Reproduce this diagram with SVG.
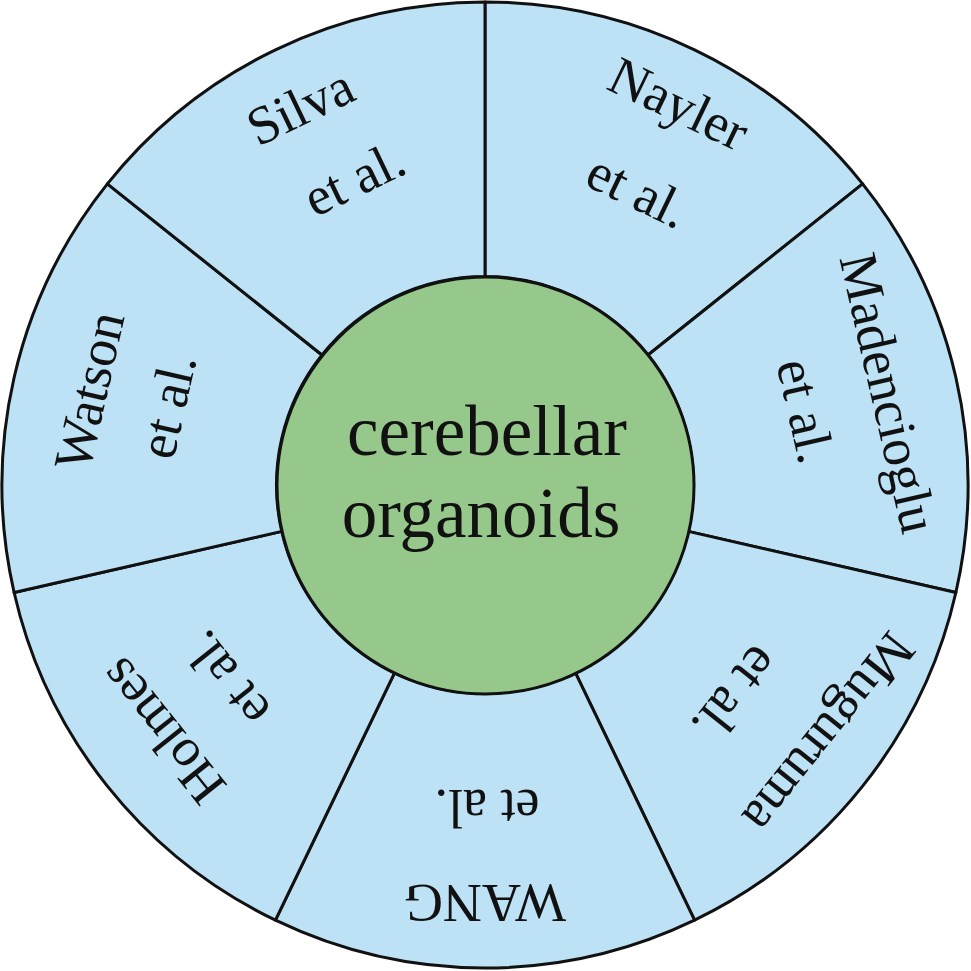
<svg xmlns="http://www.w3.org/2000/svg" width="971" height="971" viewBox="0 0 971 971">
<style>
.sec{fill:#BDE1F5;stroke:#111;stroke-width:3;stroke-linejoin:round}
.hub{fill:#96C78B;stroke:#111;stroke-width:3}
.lbl{font-family:"Liberation Serif","DejaVu Serif",serif;font-size:54px;fill:#111;text-anchor:middle}
.hubt{font-family:"Liberation Serif","DejaVu Serif",serif;font-size:71px;fill:#111;text-anchor:middle}
</style>
<rect width="971" height="971" fill="#fff"/>
<g id="sector-nayler">
<path class="sec" d="M485,2 A483,483 0 0 1 862.62,183.85 L648.01,355 A208.5,208.5 0 0 0 485,276.5 Z"/>
<text class="lbl" transform="translate(671,120) rotate(25.71)">Nayler</text>
<text class="lbl" transform="translate(630,207) rotate(25.71)">et al.</text>
</g>
<g id="sector-madencioglu">
<path class="sec" d="M862.62,183.85 A483,483 0 0 1 955.89,592.48 L688.27,531.4 A208.5,208.5 0 0 0 648.01,355 Z"/>
<text class="lbl" transform="translate(871,397) rotate(77.14)">Madencioglu</text>
<text class="lbl" transform="translate(788,415) rotate(77.14)">et al.</text>
</g>
<g id="sector-muguruma">
<path class="sec" d="M955.89,592.48 A483,483 0 0 1 694.56,920.17 L575.46,672.85 A208.5,208.5 0 0 0 688.27,531.4 Z"/>
<text class="lbl" transform="translate(815,722) rotate(128.57)">Muguruma</text>
<text class="lbl" transform="translate(722,683) rotate(128.57)">et al.</text>
</g>
<g id="sector-wang">
<path class="sec" d="M694.56,920.17 A483,483 0 0 1 275.44,920.17 L394.54,672.85 A208.5,208.5 0 0 0 575.46,672.85 Z"/>
<text class="lbl" transform="translate(485,885) rotate(180)">WANG</text>
<text class="lbl" transform="translate(487,790) rotate(180)">et al.</text>
</g>
<g id="sector-holmes">
<path class="sec" d="M275.44,920.17 A483,483 0 0 1 14.11,592.48 L281.73,531.4 A208.5,208.5 0 0 0 394.54,672.85 Z"/>
<text class="lbl" transform="translate(176,720) rotate(231.43)">Holmes</text>
<text class="lbl" transform="translate(240,668) rotate(231.43)">et al.</text>
</g>
<g id="sector-watson">
<path class="sec" d="M14.11,592.48 A483,483 0 0 1 107.38,183.85 L321.99,355 A208.5,208.5 0 0 0 281.73,531.4 Z"/>
<text class="lbl" transform="translate(107,395) rotate(-77.14)">Watson</text>
<text class="lbl" transform="translate(185,410) rotate(-77.14)">et al.</text>
</g>
<g id="sector-silva">
<path class="sec" d="M107.38,183.85 A483,483 0 0 1 485,2 L485,276.5 A208.5,208.5 0 0 0 321.99,355 Z"/>
<text class="lbl" transform="translate(308,123) rotate(-25.71)">Silva</text>
<text class="lbl" transform="translate(362,195) rotate(-25.71)">et al.</text>
</g>
<g id="hub">
<circle class="hub" cx="485.5" cy="485.5" r="208.5"/>
<text class="hubt" x="487" y="455">cerebellar</text>
<text class="hubt" x="481" y="537">organoids</text>
</g>
<g id="connectors"></g>
</svg>
